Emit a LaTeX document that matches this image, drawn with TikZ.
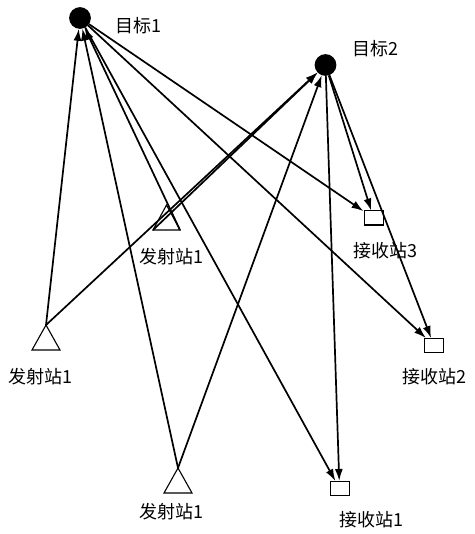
\documentclass[tikz,border=0pt]{standalone}
\usepackage{fontspec}
\newfontfamily\cjk{Noto Sans CJK SC}
\usetikzlibrary{arrows.meta}
\begin{document}
\begin{tikzpicture}[x=1pt,y=-1pt,
  line width=1.7pt,
  arr/.style={-{Latex[length=12pt,width=8pt]}},
  target/.style={circle,fill=black,draw=black,inner sep=0pt,minimum size=20pt},
  rx/.style={rectangle,draw=black,line width=1pt,fill=white,inner sep=0pt,minimum width=19pt,minimum height=14pt},
  tri/.style={line width=1.1pt,line join=miter},
  lbl/.style={font=\cjk\fontsize{18}{20}\selectfont,inner sep=0pt}]
\useasboundingbox (0,0) rectangle (474,534);
% targets
\node[target] (t1) at (80,18) {};
\node[target] (t2) at (325.5,65) {};
\node[lbl] (l1) at (138,26) {目标1};
\node[lbl] (l2) at (375,49) {目标2};
% transmitters
\coordinate (ta) at (166.5,205);
\coordinate (tal) at (153,230);
\coordinate (tar) at (180,230);
\coordinate (tb) at (46,325);
\coordinate (tbl) at (32,350);
\coordinate (tbr) at (60,350);
\coordinate (tc) at (178,468);
\coordinate (tcl) at (164,493);
\coordinate (tcr) at (192,493);
\draw[tri] (tal) -- (ta) -- (tar) -- cycle;
\draw[tri] (tbl) -- (tb) -- (tbr) -- cycle;
\draw[tri] (tcl) -- (tc) -- (tcr) -- cycle;
\node[lbl] (la) at (171,257) {发射站1};
\node[lbl] (lb) at (40,377) {发射站1};
\node[lbl] (lc) at (171,512) {发射站1};
% receivers
\node[rx] (r3) at (373.5,218) {};
\node[rx] (r2) at (434,345.5) {};
\node[rx] (r1) at (339.5,488.5) {};
\node[lbl] (lr3) at (385,251) {接收站3};
\node[lbl] (lr2) at (434,377) {接收站2};
\node[lbl] (lr1) at (371,520) {接收站1};
% transmitters to targets
\draw[arr] (tb) -- (t1);
\draw[arr] (tar) -- (t1);
\draw[arr] (tc) -- (t1);
\draw[arr] (tb) -- (t2);
\draw[arr] (tal) -- (t2);
\draw[arr] (tc) -- (t2);
% targets to receivers
\draw[arr] (t1) -- (r3);
\draw[arr] (t1) -- (r2);
\draw[arr] (t1) -- (r1);
\draw[arr] (t2) -- (r3);
\draw[arr] (t2) -- (r2);
\draw[arr] (t2) -- (r1);
\end{tikzpicture}
\end{document}
